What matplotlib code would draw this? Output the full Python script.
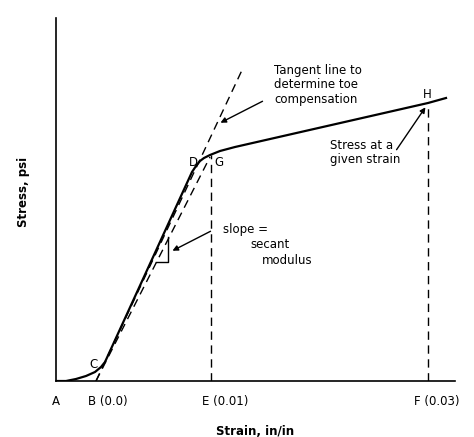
import matplotlib
matplotlib.use('Agg')
import matplotlib.pyplot as plt

# stress-strain curve, in chart units (origin at A)
curve_x = [0, 10, 20, 30, 39, 45, 49, 136, 140, 144, 148, 154, 164, 179, 372, 390]
curve_y = [0, 0, 2, 5, 9, 14, 19, 209, 215, 220, 223, 226, 230, 234, 278, 283]

tangent_x = [40, 187]
tangent_y = [0, 313]
secant_x = [40, 154]
secant_y = [0, 224]

strain_x = [155, 372]     # E and F positions
strain_top = [226, 278]

tick_pos = [0, 52, 169, 381]
tick_labels = ['A', 'B (0.0)', 'E (0.01)', 'F (0.03)']

fig = plt.figure(figsize=(4.74, 4.37), dpi=100)
ax = fig.add_axes([56 / 474, 56 / 437, 399 / 474, 363 / 437])
ax.set_xlim(0, 399)
ax.set_ylim(0, 363)
for s in ['top', 'right']:
    ax.spines[s].set_visible(False)
ax.spines['left'].set_linewidth(1.2)
ax.spines['bottom'].set_linewidth(1.2)

ax.plot(curve_x, curve_y, color='black', lw=1.6)
ax.plot(tangent_x, tangent_y, color='black', lw=1, dashes=(6, 4))
ax.plot(secant_x, secant_y, color='black', lw=1, dashes=(6, 4))
for x, top in zip(strain_x, strain_top):
    ax.plot([x, x], [0, top], color='black', lw=1, dashes=(6, 4))

# secant slope triangle
ax.plot([100, 112, 112], [119, 119, 144], color='black', lw=1)

ax.set_xticks(tick_pos)
ax.set_xticklabels(tick_labels, fontsize=8.5)
ax.tick_params(axis='x', length=0, pad=10)
ax.set_yticks([])

fs = 8.5
ax.text(133, 218, 'D', fontsize=fs, ha='left', va='center')
ax.text(158, 219, 'G', fontsize=fs, ha='left', va='center')
ax.text(371, 287, 'H', fontsize=fs, ha='center', va='center')
ax.text(37, 17, 'C', fontsize=fs, ha='center', va='center')

ax.text(218, 317, 'Tangent line to\ndetermine toe\ncompensation',
        fontsize=fs, ha='left', va='top', linespacing=1.15)
ax.text(274, 242, 'Stress at a\ngiven strain',
        fontsize=fs, ha='left', va='top', linespacing=1.15)
ax.text(167, 151, 'slope =', fontsize=fs, ha='left', va='center')
ax.text(194, 136, 'secant', fontsize=fs, ha='left', va='center')
ax.text(206, 121, 'modulus', fontsize=fs, ha='left', va='center')

arrow = dict(arrowstyle='-|>', color='black', lw=1, mutation_scale=8)
ax.annotate('', xy=(162, 257), xytext=(209, 281), arrowprops=arrow)
ax.annotate('', xy=(114, 129), xytext=(157, 151), arrowprops=arrow)
ax.annotate('', xy=(371, 276), xytext=(339, 229), arrowprops=arrow)

ax.set_xlabel('Strain, in/in', fontsize=8.5, fontweight='bold', labelpad=12)
fig.text(24 / 474, 1 - 192 / 437, 'Stress, psi', fontsize=8.5, fontweight='bold',
         rotation=90, ha='center', va='center')

fig.savefig('out.png', dpi=100)
